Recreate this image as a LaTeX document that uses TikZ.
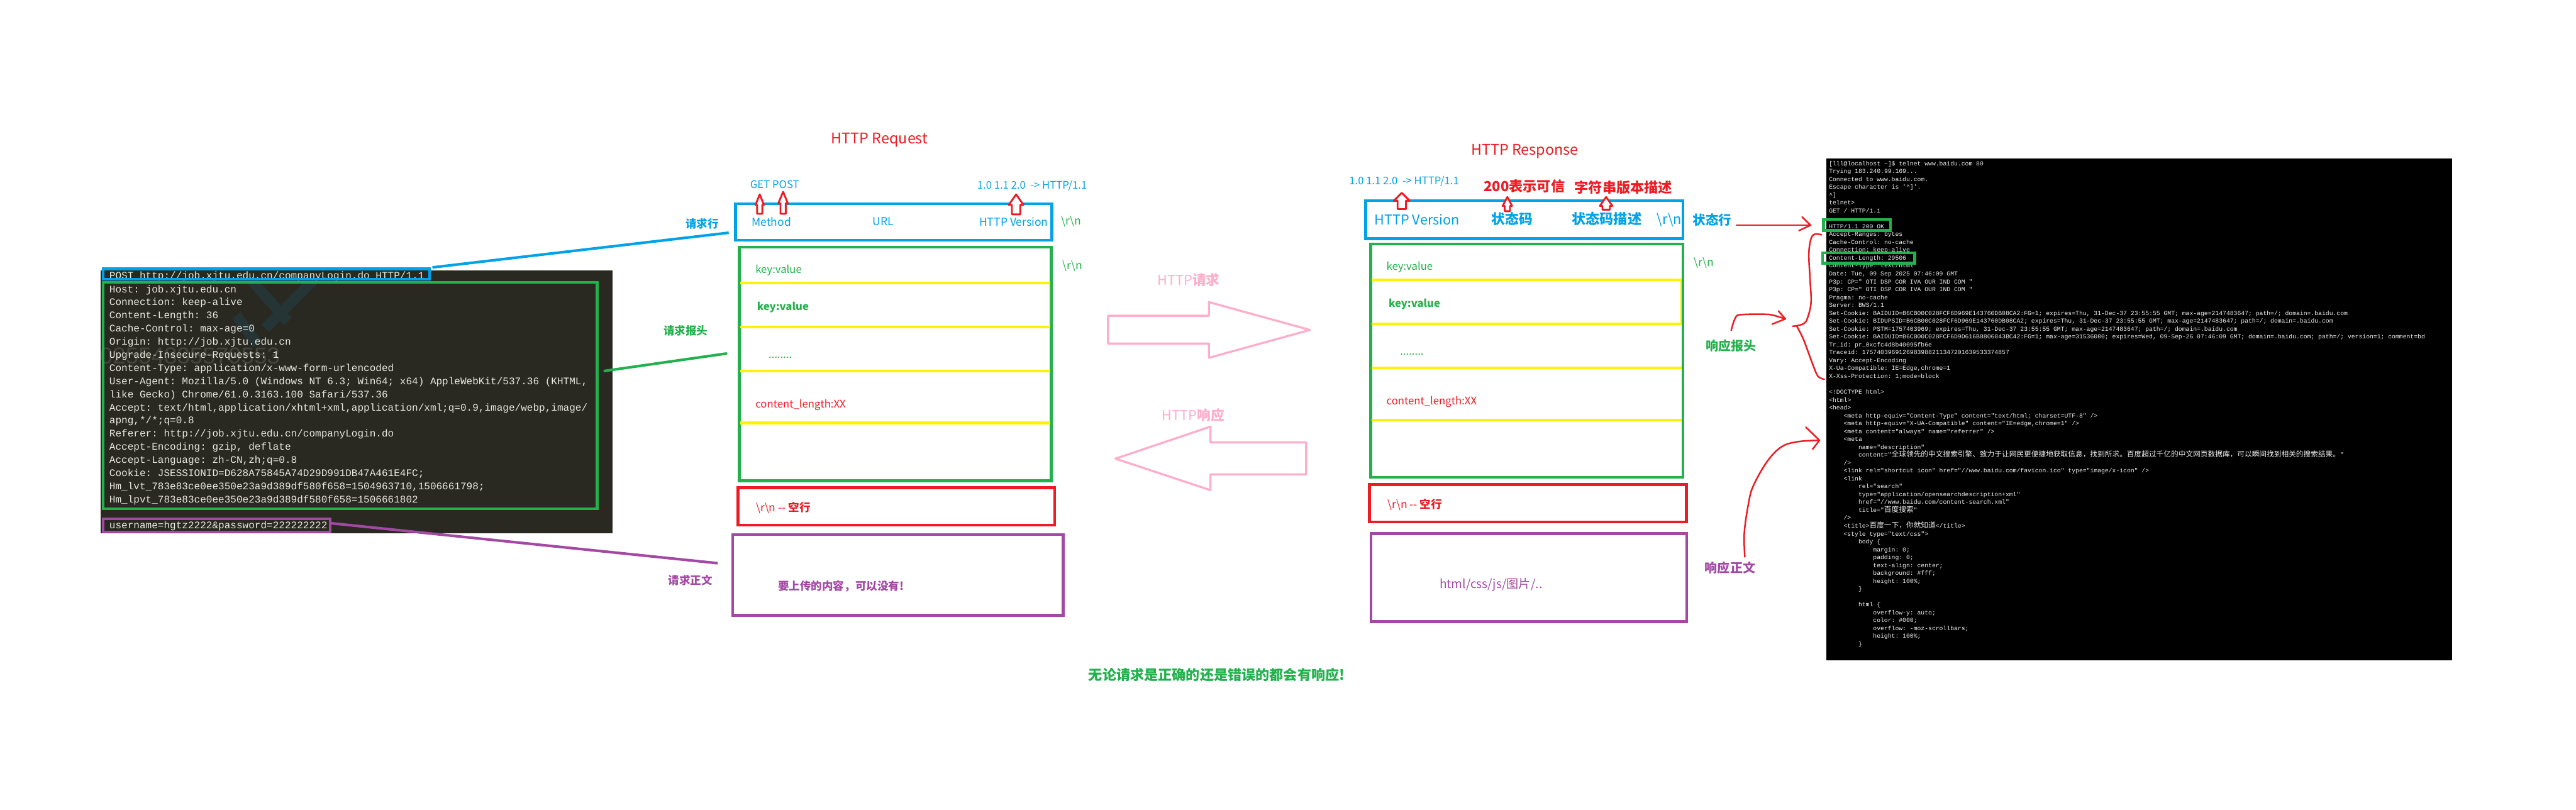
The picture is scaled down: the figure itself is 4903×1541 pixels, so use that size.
\documentclass[tikz,border=0pt]{standalone}
\usepackage{fontspec}
\setmainfont{Noto Sans CJK SC}
\setmonofont{Liberation Mono}
\newfontfamily\wmfont{Liberation Sans}
\definecolor{cblue}{HTML}{00A2E8}
\definecolor{cgreen}{HTML}{22B14C}
\definecolor{cred}{HTML}{ED1C24}
\definecolor{cpurple}{HTML}{A349A4}
\definecolor{cyellow}{HTML}{FFF200}
\definecolor{cpink}{HTML}{FFAEC9}
\definecolor{cdark}{HTML}{292922}
\definecolor{cltext}{HTML}{EAEADF}
\definecolor{crtext}{HTML}{F0F0F0}
\tikzset{
  txt/.style={inner sep=0pt,outer sep=0pt,anchor=west},
  fs/.style={font=\fontsize{#1}{30}\selectfont},
  fsb/.style={font=\bfseries\fontsize{#1}{30}\selectfont},
  frame/.style={draw=#1,line width=5.5,inner sep=0pt,outer sep=0pt,fill=none},
  link/.style={draw=#1,line width=5},
  divider/.style={draw=cyellow,line width=5},
  hand/.style={draw=cred,line width=3,line cap=round,line join=round},
  hollow/.style={draw=cred,fill=white,line width=3.5,line join=round},
  bigarrow/.style={draw=cpink,line width=4,line join=round},
  lterm/.style={inner sep=0pt,anchor=base west,text=cltext,font=\ttfamily\fontsize{19.2}{24}\selectfont},
  rterm/.style={inner sep=0pt,anchor=base west,text=crtext,font=\ttfamily\fontsize{11.67}{15}\selectfont},
}
\newcommand{\boxnode}[6]{\node[frame=#2,minimum width={#5-#3},minimum height={#6-#4}] (#1) at ({(#3+#5)/2},{(#4+#6)/2}) {};}
\newcommand{\upmark}[7]{\draw[hollow] ({#1-#6},#4) -- ({#1-#6},#3) -- ({#1-#5},#3) -- (#1,#2) -- ({#1+#5},#3) -- ({#1+#6},#3) -- ({#1+#6},#4) -- cycle;}
\newcommand{\lterml}[2]{\node[lterm] (lt#1) at (208,{556.7+25*#1}) {#2};}
\newcommand{\rterml}[3]{\node[rterm] (rt#1) at ({3481+7*#2},{314.9+15*#1}) {#3};}
\newcommand{\bs}{\textbackslash}
\begin{document}
\begin{tikzpicture}[x=1pt,y=-1pt]
\useasboundingbox (0,0) rectangle (4903,1541);
\fill[white] (0,0) rectangle (4903,1541);

% left terminal
\fill[cdark] (192,515) rectangle (1166,1015);
\draw[color=cblue!10!cdark,line width=20] (480,535) -- (548,612);
\draw[color=cblue!10!cdark,line width=20] (600,530) -- (505,625);
\draw[color=cblue!10!cdark,line width=20] (450,600) -- (490,655);
\begin{scope}
\clip (192,515) rectangle (1166,1015);
\node[inner sep=0pt,anchor=west,text=white!13!cdark,font=\wmfont\fontsize{44}{50}\selectfont] (wm) at (190,677) {02554835579553};
\end{scope}
\node[lterm] (ltpost) at (208,531) {POST http://job.xjtu.edu.cn/companyLogin.do HTTP/1.1};
\lterml{0}{Host: job.xjtu.edu.cn}
\lterml{1}{Connection: keep-alive}
\lterml{2}{Content-Length: 36}
\lterml{3}{Cache-Control: max-age=0}
\lterml{4}{Origin: http://job.xjtu.edu.cn}
\lterml{5}{Upgrade-Insecure-Requests: 1}
\lterml{6}{Content-Type: application/x-www-form-urlencoded}
\lterml{7}{User-Agent: Mozilla/5.0 (Windows NT 6.3; Win64; x64) AppleWebKit/537.36 (KHTML,}
\lterml{8}{like Gecko) Chrome/61.0.3163.100 Safari/537.36}
\lterml{9}{Accept: text/html,application/xhtml+xml,application/xml;q=0.9,image/webp,image/}
\lterml{10}{apng,*/*;q=0.8}
\lterml{11}{Referer: http://job.xjtu.edu.cn/companyLogin.do}
\lterml{12}{Accept-Encoding: gzip, deflate}
\lterml{13}{Accept-Language: zh-CN,zh;q=0.8}
\lterml{14}{Cookie: JSESSIONID=D628A75845A74D29D991DB47A461E4FC;}
\lterml{15}{Hm\_lvt\_783e83ce0ee350e23a9d389df580f658=1504963710,1506661798;}
\lterml{16}{Hm\_lpvt\_783e83ce0ee350e23a9d389df580f658=1506661802}
\node[lterm] (ltuser) at (208,1005.5) {username=hgtz2222\&password=222222222};
\boxnode{lblue}{cblue}{196.5}{511.5}{817.5}{531.5}
\boxnode{lgreen}{cgreen}{196.5}{537.5}{1136.5}{968.5}
\boxnode{lpurple}{cpurple}{196.5}{987.5}{628.5}{1012.5}

% request structure
\boxnode{qline}{cblue}{1400}{388}{2002}{457.5}
\boxnode{qhead}{cgreen}{1407}{470.5}{2001}{915}
\draw[divider] (1409,539) -- (1999,539);
\draw[divider] (1409,622) -- (1999,622);
\draw[divider] (1409,706) -- (1999,706);
\draw[divider] (1409,805) -- (1999,805);
\draw[cyellow,line width=2] (1998,539) -- (1998,622);
\boxnode{qblank}{cred}{1404.5}{928.5}{2007.5}{999.5}
\boxnode{qbody}{cpurple}{1394.5}{1017.5}{2023.5}{1171.5}
\coordinate (ca1) at (823,509);
\coordinate (cb1) at (1387,443);
\coordinate (ca2) at (1151,706);
\coordinate (cb2) at (1382,673);
\coordinate (ca3) at (631,996);
\coordinate (cb3) at (1366,1072);
\draw[link=cblue] (ca1) -- (cb1);
\draw[link=cgreen,line cap=round] (ca2) -- (cb2);
\draw[link=cpurple] (ca3) -- (cb3);

\node[txt,fs=28,text=cred] (qtitle) at (1582,267) {HTTP Request};
\node[txt,fs=20,text=cblue] (qget) at (1428,351) {GET POST};
\node[txt,fs=20,text=cblue] (qver) at (1860,353) {1.0 1.1 2.0\ \ -> HTTP/1.1};
\node[txt,fs=21,text=cblue] (qmethod) at (1431,422) {Method};
\node[txt,fs=21,text=cblue] (qurl) at (1661,422) {URL};
\node[txt,fs=21,text=cblue] (qhttp) at (1864,422) {HTTP Version};
\node[txt,fs=21,text=cgreen] (qrn1) at (2020,421) {\bs r\bs n};
\node[txt,fs=21,text=cgreen] (qrn2) at (2022,507) {\bs r\bs n};
\node[txt,fs=20,text=cgreen] (qk1) at (1438,514) {key:value};
\node[txt,fsb=20,text=cgreen] (qk2) at (1441,585) {key:value};
\node[txt,fs=20,text=cgreen] (qdots) at (1463,680) {........};
\node[txt,fs=20,text=cred] (qlen) at (1438,771) {content\_length:XX};
\node[txt,fs=21,text=cred] (qblanktext) at (1439,967) {\bs r\bs n -{}- {\bfseries 空行}};
\node[txt,fsb=21,text=cpurple] (qbodytext) at (1481,1116) {要上传的内容，可以没有!};
\node[txt,fsb=21,text=cblue] (qlbl1) at (1305,426) {请求行};
\node[txt,fsb=21,text=cgreen] (qlbl2) at (1263,630) {请求报头};
\node[txt,fsb=21,text=cpurple] (qlbl3) at (1272,1104) {请求正文};
\upmark{1446}{370}{390}{407}{8}{5}{}
\upmark{1490.5}{365}{387}{407}{9}{5}{}
\upmark{1934}{370}{390}{408}{14}{8}{}

% big arrows between
\draw[bigarrow] (2109,601) -- (2301,601) -- (2301,575) -- (2493,628) -- (2301,681) -- (2301,654) -- (2109,654) -- cycle;
\draw[bigarrow] (2123,873) -- (2304,812) -- (2304,842) -- (2486,842) -- (2486,903) -- (2304,903) -- (2304,933) -- cycle;
\node[txt,fs=26,text=cpink] (arq) at (2203,533) {HTTP{\bfseries 请求}};
\node[txt,fs=26,text=cpink] (ars) at (2212,790) {HTTP{\bfseries 响应}};

% response structure
\boxnode{sline}{cblue}{2599}{382}{3203}{454.5}
\boxnode{shead}{cgreen}{2609}{464.5}{3203}{908.5}
\draw[divider] (2611,533) -- (3201,533);
\draw[divider] (2611,616) -- (3201,616);
\draw[divider] (2611,700) -- (3201,700);
\draw[divider] (2611,799.5) -- (3201,799.5);
\draw[cyellow,line width=2] (3199.5,533) -- (3199.5,616);
\boxnode{sblank}{cred}{2606.5}{922.5}{3209.5}{993.5}
\boxnode{sbody}{cpurple}{2609.5}{1015.5}{3210.5}{1183.5}

\node[txt,fs=28,text=cred] (stitle) at (2800,288) {HTTP Response};
\node[txt,fs=20,text=cblue] (sver) at (2568,345) {1.0 1.1 2.0\ \ -> HTTP/1.1};
\node[txt,fsb=26.5,text=cred] (s200) at (2824,355) {200表示可信};
\node[txt,fsb=26.5,text=cred] (sstr) at (2997,357) {字符串版本描述};
\node[txt,fs=26,text=cblue] (shttp) at (2616,418) {HTTP Version};
\node[txt,fsb=26,text=cblue] (scode) at (2839,417) {状态码};
\node[txt,fsb=26.5,text=cblue] (sdesc) at (2992,417) {状态码描述};
\node[txt,fs=26,text=cblue] (srn1) at (3154,419) {\bs r\bs n};
\node[txt,fsb=24.5,text=cblue] (slbl1) at (3222,419) {状态行};
\node[txt,fs=21,text=cgreen] (srn2) at (3224,501) {\bs r\bs n};
\node[txt,fs=20,text=cgreen] (sk1) at (2639,508) {key:value};
\node[txt,fsb=20,text=cgreen] (sk2) at (2643,579) {key:value};
\node[txt,fs=20,text=cgreen] (sdots) at (2665,674) {........};
\node[txt,fs=20,text=cred] (slen) at (2639,765) {content\_length:XX};
\node[txt,fs=21,text=cred] (sblanktext) at (2641,961) {\bs r\bs n -{}- {\bfseries 空行}};
\node[txt,fs=23,text=cpurple] (sbodytext) at (2740,1113) {html/css/js/图片/..};
\node[txt,fsb=24,text=cgreen] (slbl2) at (3247,658) {响应报头};
\node[txt,fsb=24,text=cpurple] (slbl3) at (3245,1081) {响应正文};
\upmark{2668}{367}{382}{398}{15}{8}{}
\upmark{2869}{375}{392}{402}{9}{5}{}
\upmark{3057}{375}{392}{399}{12}{7}{}

\node[txt,fsb=26.5,text=cgreen] (note) at (2072,1285) {无论请求是正确的还是错误的都会有响应!};

% right terminal
\fill[black] (3476,302) rectangle (4667,1257);
\rterml{0}{0}{[lll@localhost \textasciitilde]\$ telnet www.baidu.com 80}
\rterml{1}{0}{Trying 183.240.99.169...}
\rterml{2}{0}{Connected to www.baidu.com.}
\rterml{3}{0}{Escape character is '\textasciicircum]'.}
\rterml{4}{0}{\textasciicircum]}
\rterml{5}{0}{telnet>}
\rterml{6}{0}{GET / HTTP/1.1}
\rterml{8}{0}{HTTP/1.1 200 OK}
\rterml{9}{0}{Accept-Ranges: bytes}
\rterml{10}{0}{Cache-Control: no-cache}
\rterml{11}{0}{Connection: keep-alive}
\rterml{12}{0}{Content-Length: 29506}
\rterml{13}{0}{Content-Type: text/html}
\rterml{14}{0}{Date: Tue, 09 Sep 2025 07:46:09 GMT}
\rterml{15}{0}{P3p: CP=" OTI DSP COR IVA OUR IND COM "}
\rterml{16}{0}{P3p: CP=" OTI DSP COR IVA OUR IND COM "}
\rterml{17}{0}{Pragma: no-cache}
\rterml{18}{0}{Server: BWS/1.1}
\rterml{19}{0}{Set-Cookie: BAIDUID=B6CB00C028FCF6D969E143760DB08CA2:FG=1; expires=Thu, 31-Dec-37 23:55:55 GMT; max-age=2147483647; path=/; domain=.baidu.com}
\rterml{20}{0}{Set-Cookie: BIDUPSID=B6CB00C028FCF6D969E143760DB08CA2; expires=Thu, 31-Dec-37 23:55:55 GMT; max-age=2147483647; path=/; domain=.baidu.com}
\rterml{21}{0}{Set-Cookie: PSTM=1757403969; expires=Thu, 31-Dec-37 23:55:55 GMT; max-age=2147483647; path=/; domain=.baidu.com}
\rterml{22}{0}{Set-Cookie: BAIDUID=B6CB00C028FCF6D9D616B8806843BC42:FG=1; max-age=31536000; expires=Wed, 09-Sep-26 07:46:09 GMT; domain=.baidu.com; path=/; version=1; comment=bd}
\rterml{23}{0}{Tr\_id: pr\_0xcfc4d8b40095fb6e}
\rterml{24}{0}{Traceid: 1757403969126983988211347201639533374857}
\rterml{25}{0}{Vary: Accept-Encoding}
\rterml{26}{0}{X-Ua-Compatible: IE=Edge,chrome=1}
\rterml{27}{0}{X-Xss-Protection: 1;mode=block}
\rterml{29}{0}{<!DOCTYPE html>}
\rterml{30}{0}{<html>}
\rterml{31}{0}{<head>}
\rterml{32}{4}{<meta http-equiv="Content-Type" content="text/html; charset=UTF-8" />}
\rterml{33}{4}{<meta http-equiv="X-UA-Compatible" content="IE=edge,chrome=1" />}
\rterml{34}{4}{<meta content="always" name="referrer" />}
\rterml{35}{4}{<meta}
\rterml{36}{8}{name="description"}
\rterml{37}{8}{content="{\rmfamily\fontsize{14}{15}\selectfont 全球领先的中文搜索引擎、致力于让网民更便捷地获取信息，找到所求。百度超过千亿的中文网页数据库，可以瞬间找到相关的搜索结果。}"}
\rterml{38}{4}{/>}
\rterml{39}{4}{<link rel="shortcut icon" href="//www.baidu.com/favicon.ico" type="image/x-icon" />}
\rterml{40}{4}{<link}
\rterml{41}{8}{rel="search"}
\rterml{42}{8}{type="application/opensearchdescription+xml"}
\rterml{43}{8}{href="//www.baidu.com/content-search.xml"}
\rterml{44}{8}{title="{\rmfamily\fontsize{14}{15}\selectfont 百度搜索}"}
\rterml{45}{4}{/>}
\rterml{46}{4}{<title>{\rmfamily\fontsize{14}{15}\selectfont 百度一下，你就知道}</title>}
\rterml{47}{4}{<style type="text/css">}
\rterml{48}{8}{body \{}
\rterml{49}{12}{margin: 0;}
\rterml{50}{12}{padding: 0;}
\rterml{51}{12}{text-align: center;}
\rterml{52}{12}{background: \#fff;}
\rterml{53}{12}{height: 100\%;}
\rterml{54}{8}{\}}
\rterml{56}{8}{html \{}
\rterml{57}{12}{overflow-y: auto;}
\rterml{58}{12}{color: \#000;}
\rterml{59}{12}{overflow: -moz-scrollbars;}
\rterml{60}{12}{height: 100\%;}
\rterml{61}{8}{\}}
\boxnode{rgreen1}{cgreen}{3471}{418}{3598}{439}
\boxnode{rgreen2}{cgreen}{3469}{481}{3644}{501}

% hand-drawn marks
\coordinate (h1s) at (3305,428.6);
\coordinate (h1e) at (3446,428.6);
\draw[hand] (h1s) -- (h1e);
\draw[hand] (3430,413) -- (h1e) -- (3424,439);
\draw[hand] plot[smooth,tension=0.6] coordinates {(3467,447) (3450,448) (3443,479) (3445,530) (3447,575.5) (3440,606) (3433,616) (3420,620) (3412,621)};
\draw[hand] plot[smooth,tension=0.5] coordinates {(3420,621) (3433,647) (3450,693) (3460,716) (3472,722)};
\draw[hand] plot[smooth,tension=0.3] coordinates {(3295,629) (3307,600) (3367,598.5) (3398,607)};
\draw[hand] (3385,592) -- (3398,607) -- (3373,617);
\draw[hand] plot[smooth,tension=0.6] coordinates {(3321,1060) (3320,1014) (3328,958) (3337,925) (3363,879) (3390,851) (3420,841) (3463,838)};
\draw[hand] (3437,813) -- (3463,838) -- (3450,855);
\end{tikzpicture}
\end{document}
